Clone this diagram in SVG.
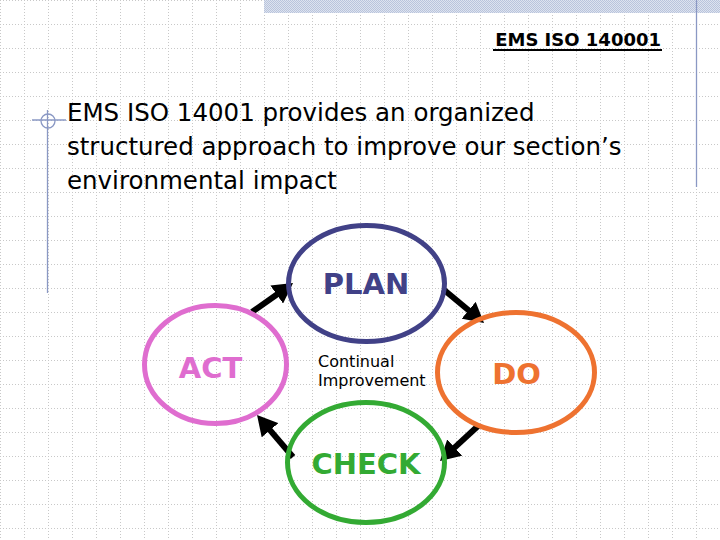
<svg xmlns="http://www.w3.org/2000/svg" width="720" height="540" viewBox="0 0 720 540">
<defs>
<pattern id="grid" width="24" height="24" patternUnits="userSpaceOnUse">
<path d="M0 0.5H24M0.5 0V24" stroke="#c8c8c8" stroke-width="1" stroke-dasharray="1 2" fill="none"/>
</pattern>
<pattern id="band" width="2" height="2" patternUnits="userSpaceOnUse">
<rect width="2" height="2" fill="#dde3ef"/>
<rect width="1" height="1" fill="#b9c4dc"/>
<rect x="1" y="1" width="1" height="1" fill="#b9c4dc"/>
</pattern>
<marker id="ah" markerUnits="userSpaceOnUse" markerWidth="20" markerHeight="22" refX="5" refY="11" orient="auto">
<path d="M0,0 L20,11 L0,22 z" fill="#000"/>
</marker>
<style>
.deco{stroke:#8a98c4;stroke-width:1.3;fill:none}
.para{font-family:"DejaVu Sans",Verdana,sans-serif;font-size:24.5px;fill:#000}
.big{font-family:"DejaVu Sans",Verdana,sans-serif;font-size:29px;font-weight:bold;text-anchor:middle}
.ring{fill:none;stroke-width:5}
.arrow{stroke:#000;stroke-width:6;fill:none;marker-end:url(#ah)}
</style>
</defs>
<rect width="720" height="540" fill="#fff"/>
<rect width="720" height="540" fill="url(#grid)"/>
<rect x="264" y="0" width="456" height="13" fill="url(#band)"/>
<g id="decoration">
<line class="deco" x1="696.5" y1="0" x2="696.5" y2="187"/>
<line class="deco" x1="32" y1="120" x2="66" y2="120"/>
<line class="deco" x1="47.5" y1="110" x2="47.5" y2="293"/>
<circle class="deco" cx="48" cy="121" r="7"/>
</g>
<g id="title">
<text x="661" y="46" font-family="'DejaVu Sans',Verdana,sans-serif" font-size="18" font-weight="bold" text-anchor="end" fill="#000">EMS ISO 140001</text>
<line x1="493" y1="50" x2="662" y2="50" stroke="#000" stroke-width="2"/>
</g>
<g id="paragraph">
<text class="para" x="67" y="121">EMS ISO 14001 provides an organized</text>
<text class="para" x="67" y="155">structured approach to improve our section’s</text>
<text class="para" x="67" y="189">environmental impact</text>
</g>
<g id="connectors">
<line class="arrow" x1="252" y1="312" x2="280.8" y2="291.7"/>
<line class="arrow" x1="443" y1="289" x2="472.5" y2="313.5"/>
<line class="arrow" x1="478" y1="426" x2="451" y2="450.9"/>
<line class="arrow" x1="293" y1="457" x2="266.8" y2="426.4"/>
</g>
<g id="plan">
<ellipse class="ring" cx="366.5" cy="283.5" rx="78" ry="58" stroke="#414187"/>
<text class="big" x="366" y="294" fill="#414187">PLAN</text>
</g>
<g id="act">
<ellipse class="ring" cx="215.5" cy="364.5" rx="71" ry="59" stroke="#df6dcf"/>
<text class="big" x="210.5" y="378" fill="#df6dcf">ACT</text>
</g>
<g id="do">
<ellipse class="ring" cx="516" cy="372.5" rx="78.5" ry="60" stroke="#ee7230"/>
<text class="big" x="516.5" y="384" fill="#ee7230">DO</text>
</g>
<g id="check">
<ellipse class="ring" cx="366" cy="462.5" rx="78.5" ry="60" stroke="#33aa33"/>
<text class="big" x="366" y="474" fill="#33aa33">CHECK</text>
</g>
<g id="center">
<text x="318" y="367" font-family="'DejaVu Sans',Verdana,sans-serif" font-size="16" fill="#000">Continual</text>
<text x="318" y="386" font-family="'DejaVu Sans',Verdana,sans-serif" font-size="16" fill="#000">Improvement</text>
</g>
</svg>
